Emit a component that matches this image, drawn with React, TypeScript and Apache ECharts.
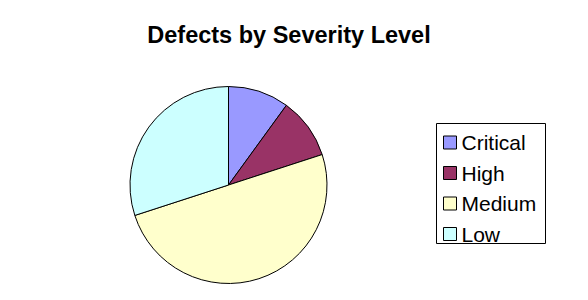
import React, { useEffect, useRef } from "react";
import * as echarts from "echarts";

const categories = ["Critical", "High", "Medium", "Low"];
const values = [10, 10, 50, 30];
const colors = ["#9999FF", "#993366", "#FFFFCC", "#CCFFFF"];

export default function App() {
  const ref = useRef<HTMLDivElement>(null);
  useEffect(() => {
    if (!ref.current) return;
    const chart = echarts.init(ref.current, null, { renderer: "svg" });
    chart.setOption({
      animation: false,
      backgroundColor: "#FFFFFF",
      title: {
        text: "Defects by Severity Level",
        left: 284,
        top: 18,
        textAlign: "center",
        textStyle: {
          fontFamily: "Liberation Sans, Arial, sans-serif",
          fontSize: 23.5,
          fontWeight: "bold",
          color: "#000000",
        },
      },
      graphic: [
        {
          type: "rect",
          shape: { x: 436.5, y: 123.5, width: 109, height: 120 },
          style: { fill: "#FFFFFF", stroke: "#000000", lineWidth: 1 },
          z: 0,
        },
      ],
      legend: {
        orient: "vertical",
        left: 443,
        top: 132,
        itemWidth: 13,
        itemHeight: 13,
        itemGap: 9.5,
        icon: "rect",
        padding: 0,
        z: 10,
        itemStyle: { borderColor: "#000000", borderWidth: 1 },
        textStyle: {
          fontFamily: "Liberation Sans, Arial, sans-serif",
          fontSize: 21,
          color: "#000000",
          lineHeight: 21,
        },
        data: categories,
      },
      series: [
        {
          type: "pie",
          center: [228.5, 185],
          radius: 98.5,
          startAngle: 90,
          clockwise: true,
          label: { show: false },
          labelLine: { show: false },
          emphasis: { disabled: true },
          itemStyle: { borderColor: "#000000", borderWidth: 1 },
          data: categories.map((c, i) => ({
            name: c,
            value: values[i],
            itemStyle: { color: colors[i] },
          })),
        },
      ],
    });
    return () => chart.dispose();
  }, []);
  return (
    <div
      ref={ref}
      style={{ position: "fixed", left: 0, top: 0, width: 588, height: 300 }}
    />
  );
}
